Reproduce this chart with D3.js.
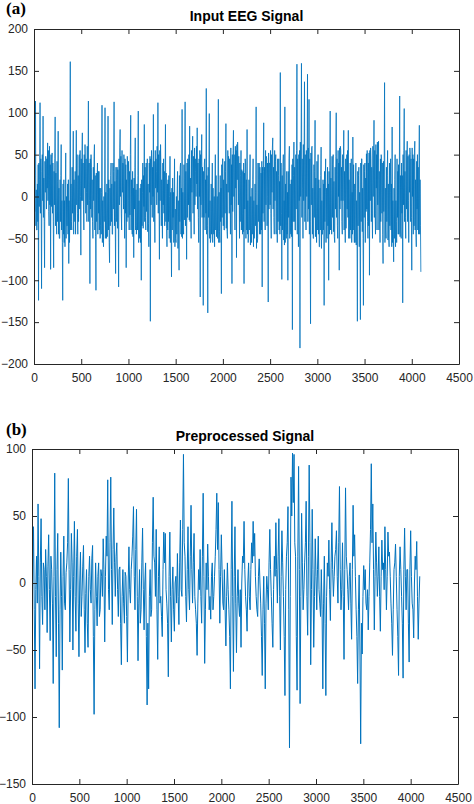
<!DOCTYPE html>
<html>
<head>
<meta charset="utf-8">
<script src="https://cdn.jsdelivr.net/npm/d3@7"></script>
<style>
  html, body { margin: 0; padding: 0; background: #fff; }
  svg { display: block; }
</style>
</head>
<body>
<div id="chart"></div>
<script>
// both recordings run over samples 0..4096
const totalSamples = 4096;

const xTicks = [0, 500, 1000, 1500, 2000, 2500, 3000, 3500, 4000, 4500];
const yTicksA = [-200, -150, -100, -50, 0, 50, 100, 150, 200];
const yTicksB = [-150, -100, -50, 0, 50, 100];

// (a) input EEG signal, one value every 4 samples
const inputSignal = [
  -110, 32, -18, 25, 114, -35, 8, -40, -40, 15, -30, 38, -124, 40, -12, 20,
  112, -20, 45, -10, -110, 30, 50, -5, 96, -25, 22, -30, -85, 42, 5, 48,
  38, -15, 45, 10, 64, -5, 55, -18, -35, 60, -10, 38, -87, 50, -12, 44,
  52, -20, 40, -30, -85, 30, -10, 45, 95, -35, 28, -15, -45, 42, -30, 18,
  78, -45, 10, -50, -50, 20, -30, 25, 62, -40, -5, -55, -124, 15, -45, 20,
  -55, -5, -60, 10, 52, -50, 0, -35, -35, 15, -45, 20, -80, -5, -55, -10,
  161, -40, 15, -30, -40, 35, -20, 28, 78, -45, 20, -10, -30, 30, -45, 22,
  79, -10, 50, -20, -45, 25, -30, 48, 50, -15, 55, 0, -70, 45, -5, 52,
  76, -5, 40, -15, -40, 50, 10, 62, 45, -20, 45, 5, -30, 60, -10, 40,
  114, -30, 40, -5, -104, 45, -15, 50, 35, -25, 20, -30, -50, 35, -5, 48,
  62, -40, 25, -48, -112, 28, -30, 15, 40, -45, 30, -20, 30, -40, 10, -50,
  -35, 10, -45, 5, 109, -55, -5, -40, -60, 0, -30, 15, 106, -50, 5, -35,
  -50, 15, -48, 5, 96, -40, 20, -55, -79, 10, -35, 25, 40, -30, 15, -45,
  -45, 40, -15, 30, 113, -35, 18, -25, -92, 35, -30, 20, 35, -38, 32, -10,
  -108, 45, -10, 58, 80, 0, 48, -20, -40, 55, 5, 40, 39, -15, 50, -8,
  -50, 45, -20, 38, -85, 20, -30, 48, 30, -25, 42, -5, -40, 30, -22, 50,
  97, -40, 20, -25, -45, 30, -48, 10, -73, 22, -15, 35, 70, -40, 8, -45,
  -35, 15, -40, 25, 102, -55, -5, -45, -50, 10, -55, 15, -100, 20, -35, 5,
  40, -38, 25, -12, 86, -30, 35, -25, -40, 40, -18, 28, 45, -42, 15, -32,
  -60, 40, 5, 48, -149, 45, -10, 55, 40, -25, 35, 0, 98, -30, 42, -15,
  -55, 55, 10, 45, 30, -10, 60, 5, 112, -20, 50, 0, -75, 55, -5, 62,
  35, -35, 20, -20, -50, 40, -10, 45, -20, 30, -35, 25, 86, -30, 28, -38,
  -60, 15, -40, 20, -30, 25, -50, 0, 48, -55, 5, -35, -96, 10, -40, 22,
  -25, 5, -55, -10, 45, -60, -15, -50, -55, 0, -45, 10, 30, -62, -5, -40,
  -88, 25, -30, 35, 40, -45, 10, -48, 104, -50, 5, -35, -45, 38, -28, 22,
  113, -35, 30, -15, -75, 40, -25, 45, 40, -10, 50, -28, 84, -30, 22, -20,
  -50, 55, 5, 50, 72, -20, 48, 10, -45, 58, -10, 45, 30, 0, 60, 15,
  82, -15, 40, -25, -55, 45, 0, 55, -120, 50, -10, 40, 74, -25, 35, -15,
  -130, 30, -25, 40, 45, -40, 20, -20, 129, -45, 25, -35, -139, 35, -25, 30,
  99, -50, -5, -55, -50, 15, -45, 5, 40, -55, 10, -40, -45, 0, -60, 10,
  50, -40, 25, -48, -40, 0, -50, 20, 116, -55, 5, -42, -55, 25, -30, 10,
  -116, 38, -25, 45, 45, -35, 20, -40, -40, 42, -20, 30, 87, -38, 15, -42,
  -50, 55, 5, 48, 40, -20, 45, 0, -45, 58, -10, 38, -104, 50, -18, 55,
  79, 0, 50, -15, -40, 60, 10, 55, -73, 62, 20, 65, 45, -10, 48, 5,
  -50, 40, -30, 25, 55, -40, 32, -20, -45, 30, -42, 40, -104, 28, -15, 45,
  40, -50, 20, -40, 80, -45, -5, -55, -45, 20, -40, 15, 50, -58, 0, -35,
  -55, 10, -45, 20, 45, -60, -5, -50, -40, 15, -35, 5, 107, -62, -10, -55,
  -50, 40, -30, 20, 40, -45, 35, -15, -45, 28, -40, 42, -108, 35, -20, 30,
  88, -30, 35, -20, -40, 55, -10, 48, 45, -35, 40, 0, -126, 52, -15, 40,
  40, -10, 55, -20, -50, 50, 5, 58, 70, -15, 35, -25, -45, 55, -5, 42,
  50, -45, 30, -12, -55, 45, -30, 25, 45, -40, 18, -45, 148, -35, 40, -20,
  -99, 25, -40, 35, 50, -52, -5, -58, 107, -55, 15, -35, -50, 30, -45, 5,
  -100, 30, -25, 45, 60, -50, 15, -40, -45, 20, -48, 38, -159, 45, -30, 25,
  65, -30, 35, -40, -40, 50, -15, 55, 158, -45, 45, -10, -60, 50, -5, 55,
  -181, 65, 0, 60, 159, -25, 45, 10, -50, 62, -5, 55, 137, -30, 50, -15,
  -40, 55, 0, 50, 146, -30, 58, -15, 116, -45, 45, -30, -152, 52, -10, 58,
  60, -45, 10, -50, -50, 38, -25, 30, 91, -48, 22, -20, -55, 42, -40, 15,
  50, -45, 20, -60, -60, 10, -40, 25, 59, -62, -5, -45, -45, 20, -40, 15,
  -130, 30, -30, 20, 45, -55, 10, -48, -50, 35, -35, 15, -100, 30, -45, 35,
  102, -40, 22, -25, -45, 48, -25, 38, 50, -42, 18, -48, -55, 35, -15, 48,
  100, -25, 45, -35, -50, 55, 0, 40, -88, 58, -15, 60, 55, -5, 35, -30,
  -45, 50, -5, 40, 79, -40, 30, -30, -55, 45, -38, 28, 50, -15, 55, -25,
  79, -50, 20, -28, -50, 40, -40, 35, 45, -55, 5, -45, 71, -40, 38, -30,
  -55, 15, -55, 10, 40, -58, -5, -45, -149, 30, -35, 25, 35, -60, 5, -55,
  -147, 40, -30, 45, 45, -42, 10, -50, -130, 38, -25, 30, 40, -55, 22, -18,
  51, -15, 55, -30, -50, 40, -35, 52, -94, 55, -5, 58, 45, -30, 35, -20,
  -50, 60, 0, 40, 91, -25, 55, -20, -45, 62, 10, 50, -40, 65, -10, 45,
  66, -40, 30, -15, -55, 45, -30, 50, 45, -20, 40, -45, -80, 42, -18, 35,
  136, -55, 10, -40, -50, 35, -30, 25, 55, -52, 15, -50, -60, 40, -35, 5,
  45, -40, 15, -60, 83, -55, -5, -45, -78, 10, -50, 20, 50, -60, -5, -30,
  -55, 45, -25, 30, -45, 38, -45, 15, 120, -48, 25, -40, -50, 40, -20, 25,
  -127, 50, -10, 55, 105, -30, 30, -25, -50, 55, -15, 40, 66, -30, 48, -5,
  -55, 50, 5, 58, 50, -30, 45, -25, -88, 58, 0, 50, -45, 45, -35, 52,
  66, -40, 20, -45, -60, 42, -15, 50, -40, 35, -45, 28, 85, -45, 20, -35,
  -90
];

// (b) preprocessed signal, one value every 8 samples
const preprocessedSignal = [
  -36, 10, 42, -20, -79, -5, 20, -15, 59, 5, -64, 15, 48, -10, -31, 15,
  10, -20, 25, 5, -37, 12, 36, -5, -43, 20, 10, -15, -75, 5, 82, -10,
  -55, 10, 37, -30, -108, -20, 23, -10, -65, 5, 35, -15, -20, 8, 15, 30,
  78, 10, -44, -5, 37, 15, -50, 5, 46, -10, -36, 20, 40, -15, -55, 0,
  23, -25, -10, 12, 28, -20, -52, -8, 10, -30, -48, 5, 20, -5, -15, 18,
  28, -40, -98, -20, 15, -10, -32, 5, 15, -25, -20, 10, 5, -10, 33, 10,
  -44, 5, 35, 20, 77, -5, -20, 30, 79, 10, -31, 25, 56, 15, -10, 20,
  30, -5, -25, 10, 12, -30, -61, -10, 10, -15, -30, 8, 5, -25, -59, 0,
  27, -5, -15, 10, 20, 35, 57, 5, -20, 25, 55, -10, -58, -15, 10, -30,
  -20, 15, 41, -5, -35, 0, 15, -40, -91, -30, -79, -10, 10, -25, -20, 30,
  64, 20, 15, -10, 40, -20, -57, 5, 27, -15, -10, -25, -40, 10, 38, 15,
  37, -5, -15, -30, -70, 5, 38, -10, -44, -5, 12, -20, -36, 0, 5, -15,
  22, -10, -31, 15, 47, -5, -10, 40, 96, 30, 20, -10, -29, 10, 42, -5,
  -20, 20, 58, 10, -15, 15, 37, -10, -20, -30, -54, -15, 10, -5, 25, -10,
  -30, 20, 67, 5, -60, -20, 15, -5, 29, 5, -20, -10, -27, 5, 15, -20,
  -10, 5, 20, 40, 67, 25, 60, 10, -30, 5, 36, 10, -15, -20, 10, -20,
  -47, -10, 15, -5, -20, -40, -79, 10, 61, -10, -66, 5, 42, -15, -52, -10,
  10, -15, -25, -5, -48, 0, 20, 15, 46, 10, -10, -20, -36, 0, 15, -10,
  -20, 10, 30, 15, 46, 20, 37, 5, -10, -20, -25, 5, 18, 0, -15, -40,
  -69, -20, 5, -30, -79, -15, 5, -5, -20, 15, 40, 10, -10, -30, -48, -5,
  20, 5, 45, 10, -15, 20, 48, -10, -50, 5, 39, 15, -10, -40, -84, -5,
  20, 30, 57, -20, -123, -10, 79, 50, 97, 60, 96, 30, 20, -40, -80, 20,
  87, 10, -90, -10, 52, 15, -20, -5, 15, 30, 61, -10, -39, 20, 88, 30,
  -61, -5, 55, 10, -48, -10, 33, 5, -20, 10, 35, -5, -15, -25, 10, -20,
  -79, -15, 20, -30, -84, -10, 15, 5, 32, -5, -28, 15, 45, 10, -10, 5,
  20, 25, 39, 5, -15, 30, 72, 10, -20, -5, 30, -10, -57, 10, 71, 20,
  10, -5, -20, 5, 15, -15, -42, 10, 58, 20, 36, 5, -20, -40, -75, -20,
  6, -50, -120, -30, -53, -10, 13, -5, 10, -15, -20, -5, -35, -10, 15, 40,
  89, 30, 59, 10, -35, 5, 38, 15, -10, 5, 27, -10, -36, 5, 32, 10,
  15, -5, 42, 10, -20, 5, 38, 20, 23, 5, -15, -30, -54, -20, 10, 15,
  29, 5, -20, -40, -69, 5, 27, 10, -10, -30, -71, 10, 41, 5, -20, 10,
  10, -30, -59, 10, 39, 5, -15, -20, -41, 0, 20, 10, 31, -10, -42, -15,
  5
];

const width = 474;
const height = 804;
const lineColor = '#0072BD';
const axisColor = '#262626';

const svg = d3.select('#chart').append('svg')
  .attr('width', width)
  .attr('height', height);

function drawPanel(opts) {
  const { left, right, top, bottom, yDomain, yTicks, values, title, tag, tagY, titleY, id, lineWidth } = opts;

  const x = d3.scaleLinear().domain([0, 4500]).range([left, right]);
  const y = d3.scaleLinear().domain(yDomain).range([bottom, top]);
  const step = totalSamples / (values.length - 1);

  const g = svg.append('g');

  g.append('clipPath')
    .attr('id', id)
    .append('rect')
    .attr('x', left)
    .attr('y', top)
    .attr('width', right - left)
    .attr('height', bottom - top);

  const line = d3.line()
    .x((d, i) => x(i * step))
    .y(d => y(d));

  g.append('path')
    .datum(values)
    .attr('clip-path', `url(#${id})`)
    .attr('fill', 'none')
    .attr('stroke', lineColor)
    .attr('stroke-width', lineWidth)
    .attr('d', line);

  // box axes, ticks pointing inward, labels only left/bottom
  const tickFont = g => g
    .attr('font-family', 'Arial, "Liberation Sans", sans-serif')
    .attr('font-size', 12)
    .attr('color', axisColor);

  g.append('g')
    .attr('transform', `translate(0,${bottom})`)
    .call(d3.axisBottom(x).tickValues(xTicks).tickFormat(d3.format('d')).tickSizeInner(-5).tickSizeOuter(0).tickPadding(9))
    .call(tickFont);

  g.append('g')
    .attr('transform', `translate(0,${top})`)
    .call(d3.axisTop(x).tickValues(xTicks).tickFormat('').tickSizeInner(-5).tickSizeOuter(0))
    .call(tickFont);

  g.append('g')
    .attr('transform', `translate(${left},0)`)
    .call(d3.axisLeft(y).tickValues(yTicks).tickFormat(d3.format('d')).tickSizeInner(-5).tickSizeOuter(0).tickPadding(6))
    .call(tickFont);

  g.append('g')
    .attr('transform', `translate(${right},0)`)
    .call(d3.axisRight(y).tickValues(yTicks).tickFormat('').tickSizeInner(-5).tickSizeOuter(0))
    .call(tickFont);

  g.selectAll('.domain').attr('stroke', axisColor).attr('stroke-width', 1);
  g.selectAll('.tick line').attr('stroke', axisColor);
  g.selectAll('.tick text').attr('fill', axisColor);

  g.append('text')
    .attr('x', (left + right) / 2)
    .attr('y', titleY)
    .attr('text-anchor', 'middle')
    .attr('font-family', 'Arial, "Liberation Sans", sans-serif')
    .attr('font-weight', 'bold')
    .attr('font-size', 14)
    .attr('fill', '#000')
    .text(title);

  g.append('text')
    .attr('x', 6)
    .attr('y', tagY)
    .attr('font-family', '"Times New Roman", "Liberation Serif", serif')
    .attr('font-weight', 'bold')
    .attr('font-size', 17)
    .attr('fill', '#000')
    .text(tag);
}

drawPanel({
  id: 'clipA', left: 34, right: 459, top: 29, bottom: 364,
  yDomain: [-200, 200], yTicks: yTicksA, values: inputSignal, lineWidth: 0.8,
  title: 'Input EEG Signal', titleY: 21, tag: '(a)', tagY: 14
});

drawPanel({
  id: 'clipB', left: 32, right: 458, top: 449, bottom: 784,
  yDomain: [-150, 100], yTicks: yTicksB, values: preprocessedSignal, lineWidth: 1,
  title: 'Preprocessed Signal', titleY: 441, tag: '(b)', tagY: 435
});
</script>
</body>
</html>
